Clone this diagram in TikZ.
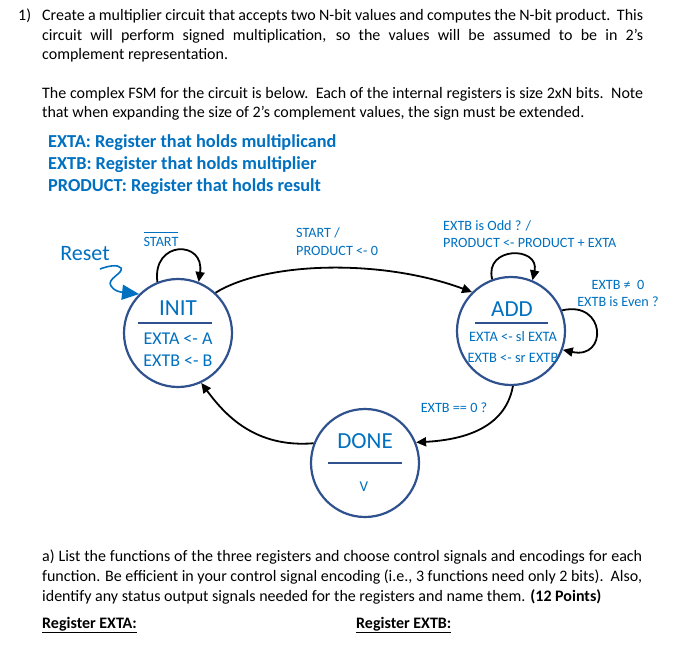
\documentclass[tikz,border=0pt]{standalone}
\usepackage{fontspec}
\setmainfont{Carlito}
\usetikzlibrary{arrows.meta}
\definecolor{tblue}{RGB}{0,112,192}
\definecolor{cblue}{RGB}{47,82,143}
\tikzset{
 body/.style={anchor=base west, inner sep=0pt, font=\fontsize{16}{19.5}\selectfont},
 head/.style={anchor=base west, inner sep=0pt, text=tblue, font=\fontsize{18.3}{22}\selectfont\bfseries},
 state/.style={circle, draw=cblue, line width=2.2pt, minimum size=108pt, inner sep=0pt},
 stitle/.style={text=tblue, inner sep=0pt, font=\fontsize{23}{26}\selectfont},
 sinner/.style={text=tblue, inner sep=0pt, font=\fontsize{18}{21}\selectfont},
 sinnersm/.style={text=tblue, inner sep=0pt, font=\fontsize{14.4}{17}\selectfont},
 sline/.style={draw=cblue, line width=2.5pt},
 lbl/.style={text=tblue, inner sep=0pt, font=\fontsize{14.2}{17.5}\selectfont},
 conn/.style={line width=1.8pt, -{Triangle[length=10pt,width=9pt]}},
}
\begin{document}
\begin{tikzpicture}[x=1pt,y=-1pt]
\fill[white] (0,0) rectangle (689,654);
\useasboundingbox (0,0) rectangle (689,654);
% question text
\node[body] (num) at (18,20) {1)};
\node[body] (l1) at (42,20) {\hbox to 601pt{Create a multiplier circuit that accepts two N-bit values and computes the N-bit product.\ \ This}};
\node[body] (l2) at (42,40) {\hbox to 601pt{circuit will perform signed multiplication, so the values will be assumed to be in 2’s}};
\node[body] (l3) at (42,59) {complement representation.};
\node[body] (l4) at (42,98) {\hbox to 601pt{The complex FSM for the circuit is below.\ \ Each of the internal registers is size 2xN bits.\ \ Note}};
\node[body] (l5) at (42,117) {that when expanding the size of 2’s complement values, the sign must be extended.};
\node[head] (h1) at (48,147) {EXTA: Register that holds multiplicand};
\node[head] (h2) at (48,169) {EXTB: Register that holds multiplier};
\node[head] (h3) at (48,191) {PRODUCT: Register that holds result};
% states
\node[state] (INIT) at (178,333) {};
\node[state] (ADD) at (511,331) {};
\node[state] (DONE) at (365,463) {};
\node[stitle] (initt) at (178,308) {INIT};
\draw[sline] (138,323) -- (212,323);
\node[sinner] (inita) at (178,339) {EXTA <- A};
\node[sinner] (initb) at (178,361) {EXTB <- B};
\node[stitle] (addt) at (512,309) {ADD};
\draw[sline] (475,323) -- (548,323);
\node[sinnersm] (adda) at (513,337) {EXTA <- sl EXTA};
\node[sinnersm] (addb) at (513,358) {EXTB <- sr EXTB};
\node[stitle] (donet) at (365,441) {DONE};
\draw[sline] (328,463) -- (402,463);
\node[sinner, font=\fontsize{15}{18}\selectfont] (donev) at (364,487) {V};
% reset
\node[text=tblue, inner sep=0pt, font=\fontsize{22}{26}\selectfont] (reset) at (85,254) {Reset};
\coordinate (rs) at (100,269);
\draw[tblue, line width=1.6pt, -{Triangle[length=17pt,width=15pt]}] (rs) .. controls (108,266) and (118,264) .. (121,268) .. controls (124,273) and (106,279) .. (111,286) .. controls (114,291) and (120,292) .. (INIT.135);
% connectors
\draw[conn] (INIT.112) .. controls (152,240) and (205,240) .. (INIT.68);
\draw[conn] (INIT.47) .. controls (265,262) and (380,258) .. (ADD.135);
\draw[conn] (ADD.110) .. controls (484,246) and (540,246) .. (ADD.67);
\draw[conn] (ADD.22) .. controls (606,300) and (608,360) .. (ADD.-20);
\draw[conn] (ADD.-88) .. controls (505,430) and (460,440) .. (DONE.22);
\draw[conn] (DONE.159) .. controls (255,448) and (225,415) .. (INIT.-65);
% labels
\node[lbl, anchor=base] (lstart) at (161,246) {$\overline{\mbox{\strut START}}$};
\node[lbl, anchor=west, align=left] (lgo) at (296,241.5) {START /\\PRODUCT <- 0};
\node[lbl, anchor=west, align=left] (lodd) at (443,234) {EXTB is Odd ? /\\PRODUCT <- PRODUCT + EXTA};
\node[lbl, align=center] (leven) at (618,293.5) {EXTB ≠\ \ 0\\EXTB is Even ?};
\node[lbl] (lzero) at (454,408) {EXTB == 0 ?};
% part a
\node[body] (a1) at (42,561) {\hbox to 600pt{a) List the functions of the three registers and choose control signals and encodings for each}};
\node[body] (a2) at (42,581) {\hbox to 600pt{function. Be efficient in your control signal encoding (i.e., 3 functions need only 2 bits).\ \ Also,}};
\node[body] (a3) at (42,601) {identify any status output signals needed for the registers and name them. \textbf{(12 Points)}};
\node[body] (ra) at (42,628) {\textbf{\underline{Register EXTA:}}};
\node[body] (rb) at (356,628) {\textbf{\underline{Register EXTB:}}};
\end{tikzpicture}
\end{document}
